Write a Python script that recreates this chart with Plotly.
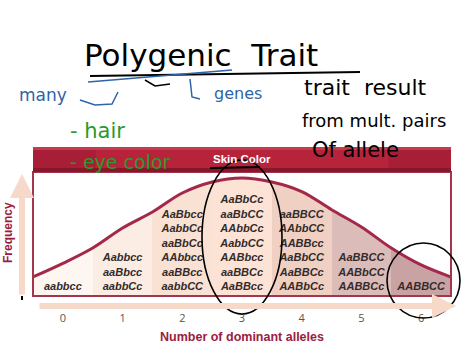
import plotly.graph_objects as go

# ---------------- data ----------------
alleles = [0, 1, 2, 3, 4, 5, 6]
tick_labels = ["0", "1", "2", "3", "4", "5", "6"]
genotypes = [
    ["aabbcc"],
    ["aabbCc", "aaBbcc", "Aabbcc"],
    ["aabbCC", "aaBBcc", "AAbbcc", "aaBbCc", "AabbCc", "AaBbcc"],
    ["AaBBcc", "aaBBCc", "AABbcc", "AabbCC", "AAbbCc", "aaBbCC", "AaBbCc"],
    ["AABbCc", "AaBBCc", "AaBbCC", "AABBcc", "AAbbCC", "aaBBCC"],
    ["AABBCc", "AABbCC", "AaBBCC"],
    ["AABBCC"],
]
column_colors = ["#fdf6f1", "#fbede3", "#f9e2d4", "#fce3d5", "#efd0c2", "#dcbcb8", "#c9a3a4"]

# bell curve (x in alleles, y in text-row units)
curve_x = [-0.5, 0, 0.5, 1, 1.5, 2, 2.5, 3, 3.5, 4, 4.5, 5, 5.5, 6, 6.5]
curve_y = [1.31, 2.25, 3.31, 4.69, 5.79, 7.1, 7.86, 8.14, 7.86, 7.2, 5.95, 4.76, 3.31, 2.14, 1.31]

Y_TOP = 8.55
X_MIN, X_MAX = -0.5, 6.5

W, H = 474, 355
L, R, T, B = 33, 23, 172, 59
PW, PH = W - L - R, H - T - B


def px(x):
    return (x - L) / PW


def py(y):
    return (H - B - y) / PH


RED = "#9b2040"
fig = go.Figure()

# column bands
fig.add_trace(go.Bar(
    x=alleles, y=[Y_TOP] * len(alleles), width=1.0,
    marker=dict(color=column_colors, line=dict(width=0)),
    hoverinfo="skip", showlegend=False,
))

# invisible top line + white fill above curve
fig.add_trace(go.Scatter(
    x=[X_MIN, X_MAX], y=[Y_TOP, Y_TOP], mode="lines",
    line=dict(width=0, color="white"), hoverinfo="skip", showlegend=False,
))
fig.add_trace(go.Scatter(
    x=curve_x, y=curve_y, mode="lines", line_shape="spline",
    line=dict(width=0, color="white"), fill="tonexty", fillcolor="white",
    hoverinfo="skip", showlegend=False,
))
# curve line
fig.add_trace(go.Scatter(
    x=curve_x, y=curve_y, mode="lines", line_shape="spline",
    line=dict(width=3, color="#a3284a"), hoverinfo="skip", showlegend=False,
))

# genotype labels
tx, ty, tt = [], [], []
for a, col in zip(alleles, genotypes):
    for r, g in enumerate(col):
        tx.append(a)
        ty.append(r + 0.6)
        tt.append(g)
fig.add_trace(go.Scatter(
    x=tx, y=ty, text=tt, mode="text",
    textfont=dict(family="Liberation Sans, Arial", size=11, color="#332a2a",
                  weight="bold", style="italic"),
    hoverinfo="skip", showlegend=False,
))

fig.update_xaxes(
    range=[X_MIN, X_MAX], tickvals=alleles, ticktext=tick_labels,
    showgrid=False, zeroline=False, showline=False, ticks="",
    tickfont=dict(family="Open Sans, Arial", size=11, color="#555555"),
    ticklabelstandoff=14,
    title=dict(text="Number of dominant alleles", standoff=8,
               font=dict(family="Liberation Sans, Arial", size=12.5, color=RED, weight="bold")),
)
fig.update_yaxes(range=[0, Y_TOP], showgrid=False, zeroline=False, showline=False,
                 showticklabels=False, ticks="")

shapes = []
# plot border
shapes.append(dict(type="rect", xref="paper", yref="paper", x0=0, x1=1, y0=0, y1=1,
                   line=dict(color="#a3354d", width=2), layer="above"))
# header bar (gradient approximated by layered rects)
shapes.append(dict(type="rect", xref="paper", yref="paper", x0=0, x1=1, y0=1, y1=py(147),
                   fillcolor="#a81e36", line=dict(width=0)))
shapes.append(dict(type="rect", xref="paper", yref="paper", x0=0.15, x1=0.85, y0=1, y1=py(147),
                   fillcolor="#b8233c", line=dict(width=0)))
shapes.append(dict(type="rect", xref="paper", yref="paper", x0=0, x1=1, y0=py(150), y1=py(147),
                   fillcolor="#c43a4e", line=dict(width=0)))
shapes.append(dict(type="rect", xref="paper", yref="paper", x0=0, x1=1, y0=1, y1=py(168),
                   fillcolor="#86182a", line=dict(width=0)))

# handwritten marks
def line(x0, y0, x1, y1, color, w=1.5):
    shapes.append(dict(type="line", xref="paper", yref="paper",
                       x0=px(x0), y0=py(y0), x1=px(x1), y1=py(y1),
                       line=dict(color=color, width=w)))

def path(points, color, w=1.5):
    d = "M " + " L ".join(f"{px(a):.4f},{py(b):.4f}" for a, b in points)
    shapes.append(dict(type="path", xref="paper", yref="paper", path=d,
                       line=dict(color=color, width=w)))

BLUE = "#2f64a8"
GREEN = "#2a9a2a"
line(90, 76, 360, 72, "black", 1.8)
line(88, 82, 232, 70, BLUE, 1.5)
path([(80, 100), (95, 105), (112, 104), (118, 92)], BLUE)
path([(190, 79), (192, 97), (200, 99)], BLUE)
path([(145, 80), (155, 86), (170, 84)], "black")
line(210, 168, 260, 167, "black", 2)
shapes.append(dict(type="circle", xref="paper", yref="paper",
                   x0=px(202), x1=px(282), y0=py(314), y1=py(160),
                   line=dict(color="black", width=1.6), layer="above"))
shapes.append(dict(type="circle", xref="paper", yref="paper",
                   x0=px(387), x1=px(460), y0=py(318), y1=py(243),
                   line=dict(color="black", width=1.6), layer="above"))
# small black tick at bottom of frequency arrow
line(22, 296, 22, 300, "black", 2)

annotations = []

def note(text, x, y, color, size, xanchor="left", **kw):
    annotations.append(dict(text=text, x=px(x), y=py(y), xref="paper", yref="paper",
                            showarrow=False, xanchor=xanchor, yanchor="middle",
                            font=dict(family="DejaVu Sans, Noto Sans", size=size, color=color),
                            **kw))

note("Polygenic  Trait", 82, 55, "black", 31)
note("many", 17, 95, BLUE, 17)
note("genes", 212, 94, BLUE, 16)
note("trait  result", 302, 88, "black", 22)
note("from mult. pairs", 300, 120, "black", 18)
note("Of allele", 310, 150, "black", 21)
note("- hair", 68, 131, GREEN, 21)
note("- eye color", 68, 162, GREEN, 19)

annotations.append(dict(text="<b>Skin Color</b>", x=0.5, y=py(159), xref="paper", yref="paper",
                        showarrow=False, yanchor="middle",
                        font=dict(family="Liberation Sans, Arial", size=11.5, color="white")))
annotations.append(dict(text="<b>Frequency</b>", x=px(8), y=py(233), xref="paper", yref="paper",
                        showarrow=False, textangle=-90, xanchor="center", yanchor="middle",
                        font=dict(family="Liberation Sans, Arial", size=12, color=RED)))
# axis arrows
annotations.append(dict(x=px(22), y=py(174), ax=0, ay=122, xref="paper", yref="paper",
                        axref="pixel", ayref="pixel", text="", showarrow=True,
                        arrowhead=2, arrowsize=0.8, arrowwidth=6, arrowcolor="#f6d9c9"))
annotations.append(dict(x=px(456), y=py(306), ax=-418, ay=0, xref="paper", yref="paper",
                        axref="pixel", ayref="pixel", text="", showarrow=True,
                        arrowhead=2, arrowsize=0.8, arrowwidth=6, arrowcolor="#f6d9c9"))

fig.update_layout(
    width=W, height=H,
    margin=dict(l=L, r=R, t=T, b=B, pad=0),
    paper_bgcolor="white", plot_bgcolor="white",
    shapes=shapes, annotations=annotations,
    bargap=0, showlegend=False,
)

fig.write_html("out.html", config={"displayModeBar": False},
               post_script="document.body.style.margin='0';document.body.style.overflow='hidden';")
